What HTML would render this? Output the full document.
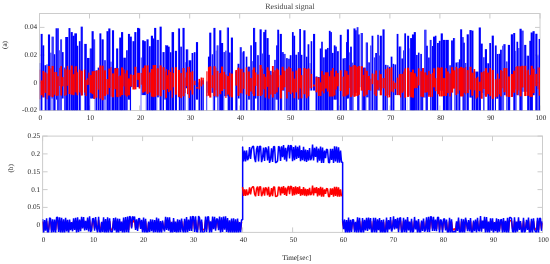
<!DOCTYPE html>
<html><head><meta charset="utf-8"><style>
html,body{margin:0;padding:0;background:#fff;width:550px;height:264px;overflow:hidden}
svg{display:block}
</style></head><body>
<svg width="550" height="264" viewBox="0 0 550 264">
<defs>
<clipPath id="ca"><rect x="39.5" y="13.5" width="500.5" height="97.0"/></clipPath>
<clipPath id="cb"><rect x="42.6" y="136.1" width="499.9" height="96.30000000000001"/></clipPath>
</defs>
<g stroke="#cccccc" stroke-width="1" fill="none">
<rect x="39.5" y="13.5" width="500.5" height="97.0"/>
<rect x="42.6" y="136.1" width="499.9" height="96.30000000000001"/>
<path d="M39.5 110.5v-5M39.5 13.5v5M89.5 110.5v-5M89.5 13.5v5M139.6 110.5v-5M139.6 13.5v5M189.7 110.5v-5M189.7 13.5v5M239.7 110.5v-5M239.7 13.5v5M289.8 110.5v-5M289.8 13.5v5M339.8 110.5v-5M339.8 13.5v5M389.9 110.5v-5M389.9 13.5v5M439.9 110.5v-5M439.9 13.5v5M489.9 110.5v-5M489.9 13.5v5M540.0 110.5v-5M540.0 13.5v5M39.5 110.5h5M540.0 110.5h-5M39.5 82.8h5M540.0 82.8h-5M39.5 55.1h5M540.0 55.1h-5M39.5 27.4h5M540.0 27.4h-5M42.6 232.4v-5M42.6 136.1v5M92.6 232.4v-5M92.6 136.1v5M142.6 232.4v-5M142.6 136.1v5M192.6 232.4v-5M192.6 136.1v5M242.6 232.4v-5M242.6 136.1v5M292.6 232.4v-5M292.6 136.1v5M342.5 232.4v-5M342.5 136.1v5M392.5 232.4v-5M392.5 136.1v5M442.5 232.4v-5M442.5 136.1v5M492.5 232.4v-5M492.5 136.1v5M542.5 232.4v-5M542.5 136.1v5M42.6 225.3h5M542.5 225.3h-5M42.6 207.4h5M542.5 207.4h-5M42.6 189.6h5M542.5 189.6h-5M42.6 171.8h5M542.5 171.8h-5M42.6 153.9h5M542.5 153.9h-5M42.6 136.1h5M542.5 136.1h-5"/>
</g>
<g clip-path="url(#ca)">
<g fill="#0000ff"><rect x="40.67" y="33.91" width="1.74" height="76.59"/><rect x="42.41" y="33.91" width="0.38" height="63.45"/><rect x="42.49" y="45.36" width="1.75" height="52.00"/><rect x="47.94" y="34.45" width="2.12" height="76.05"/><rect x="51.58" y="36.64" width="1.06" height="61.86"/><rect x="52.64" y="36.64" width="1.06" height="73.86"/><rect x="55.58" y="28.27" width="0.47" height="82.23"/><rect x="56.05" y="28.27" width="1.14" height="71.36"/><rect x="57.18" y="28.27" width="1.60" height="82.23"/><rect x="60.30" y="39.36" width="1.42" height="71.14"/><rect x="61.73" y="39.36" width="0.33" height="59.14"/><rect x="62.02" y="52.09" width="1.60" height="46.41"/><rect x="65.21" y="37.00" width="3.03" height="73.50"/><rect x="68.49" y="28.09" width="1.94" height="82.41"/><rect x="70.67" y="32.09" width="2.12" height="78.41"/><rect x="72.49" y="35.73" width="2.12" height="74.77"/><rect x="74.30" y="33.36" width="2.66" height="77.14"/><rect x="76.65" y="45.73" width="1.60" height="64.77"/><rect x="78.85" y="41.18" width="1.75" height="69.32"/><rect x="80.67" y="26.64" width="0.38" height="83.86"/><rect x="81.05" y="26.64" width="1.74" height="68.45"/><rect x="83.94" y="43.91" width="0.51" height="51.18"/><rect x="84.45" y="43.91" width="2.33" height="66.59"/><rect x="89.76" y="48.45" width="0.38" height="62.05"/><rect x="90.14" y="48.45" width="1.74" height="50.05"/><rect x="91.58" y="31.18" width="2.12" height="67.32"/><rect x="93.40" y="39.36" width="1.29" height="59.14"/><rect x="94.68" y="39.36" width="0.47" height="71.14"/><rect x="99.40" y="33.36" width="1.94" height="77.14"/><rect x="101.58" y="39.36" width="2.12" height="71.14"/><rect x="106.49" y="31.18" width="2.12" height="79.32"/><rect x="108.30" y="28.45" width="2.12" height="82.05"/><rect x="111.94" y="30.27" width="2.12" height="80.23"/><rect x="116.12" y="48.45" width="2.12" height="62.05"/><rect x="119.21" y="37.55" width="2.12" height="72.95"/><rect x="121.03" y="32.09" width="2.12" height="78.41"/><rect x="126.12" y="50.27" width="1.51" height="60.23"/><rect x="127.64" y="50.27" width="0.24" height="49.36"/><rect x="127.94" y="33.91" width="1.97" height="65.73"/><rect x="129.91" y="33.91" width="0.15" height="76.59"/><rect x="129.76" y="36.64" width="0.15" height="63.00"/><rect x="129.91" y="36.64" width="1.14" height="73.86"/><rect x="131.05" y="36.64" width="0.83" height="50.50"/><rect x="132.49" y="41.18" width="2.12" height="45.95"/><rect x="134.30" y="32.09" width="2.12" height="55.05"/><rect x="137.03" y="27.91" width="2.12" height="59.23"/><rect x="138.65" y="28.45" width="1.48" height="58.68"/><rect x="140.14" y="28.45" width="0.12" height="82.05"/><rect x="142.12" y="40.27" width="2.12" height="54.82"/><rect x="143.94" y="41.18" width="1.88" height="53.91"/><rect x="145.82" y="41.18" width="0.24" height="69.32"/><rect x="146.49" y="39.36" width="2.12" height="71.14"/><rect x="150.85" y="35.73" width="2.12" height="74.77"/><rect x="152.56" y="38.45" width="1.60" height="72.05"/><rect x="154.12" y="27.91" width="2.12" height="82.59"/><rect x="156.67" y="39.91" width="0.51" height="70.59"/><rect x="157.18" y="39.91" width="1.60" height="57.45"/><rect x="159.58" y="26.64" width="2.12" height="83.86"/><rect x="162.49" y="52.09" width="1.51" height="58.41"/><rect x="164.00" y="52.09" width="0.60" height="47.55"/><rect x="165.76" y="45.36" width="0.06" height="54.27"/><rect x="165.82" y="45.36" width="2.42" height="65.14"/><rect x="167.94" y="46.64" width="1.75" height="63.86"/><rect x="171.58" y="32.09" width="2.48" height="78.41"/><rect x="174.85" y="50.82" width="2.12" height="59.68"/><rect x="177.94" y="28.45" width="0.83" height="68.91"/><rect x="178.77" y="28.45" width="1.29" height="82.05"/><rect x="180.29" y="46.64" width="1.60" height="63.86"/><rect x="182.49" y="27.91" width="2.12" height="82.59"/><rect x="185.76" y="49.36" width="2.10" height="38.91"/><rect x="187.86" y="49.36" width="0.38" height="61.14"/><rect x="191.58" y="53.00" width="1.75" height="57.50"/><rect x="195.94" y="42.09" width="2.12" height="57.55"/><rect x="207.94" y="56.64" width="2.12" height="36.18"/><rect x="209.21" y="32.64" width="2.12" height="60.18"/><rect x="213.40" y="27.91" width="1.74" height="82.59"/><rect x="215.14" y="27.91" width="0.38" height="69.45"/><rect x="216.67" y="45.36" width="0.74" height="52.00"/><rect x="217.41" y="45.36" width="1.01" height="65.14"/><rect x="219.21" y="30.27" width="2.12" height="80.23"/><rect x="221.03" y="43.00" width="2.12" height="67.50"/><rect x="223.47" y="52.09" width="0.75" height="58.41"/><rect x="224.23" y="52.09" width="0.85" height="44.14"/><rect x="226.85" y="27.55" width="0.79" height="68.68"/><rect x="227.64" y="27.55" width="1.33" height="82.95"/><rect x="230.85" y="37.55" width="2.12" height="72.95"/><rect x="239.76" y="47.18" width="0.38" height="51.32"/><rect x="240.14" y="47.18" width="1.56" height="63.32"/><rect x="242.85" y="51.18" width="1.75" height="59.32"/><rect x="245.75" y="56.64" width="1.60" height="53.86"/><rect x="250.12" y="45.36" width="0.24" height="54.27"/><rect x="250.36" y="45.36" width="1.51" height="65.14"/><rect x="253.03" y="27.91" width="1.88" height="82.59"/><rect x="254.91" y="27.91" width="0.24" height="70.59"/><rect x="254.84" y="42.09" width="0.07" height="68.41"/><rect x="254.91" y="42.09" width="1.53" height="56.41"/><rect x="257.03" y="55.18" width="0.15" height="43.32"/><rect x="257.18" y="55.18" width="1.60" height="55.32"/><rect x="259.58" y="29.36" width="2.12" height="81.14"/><rect x="263.21" y="32.09" width="1.75" height="78.41"/><rect x="264.67" y="29.73" width="1.75" height="80.77"/><rect x="266.49" y="38.09" width="2.12" height="72.41"/><rect x="268.20" y="54.82" width="1.60" height="55.68"/><rect x="276.11" y="45.36" width="1.53" height="54.27"/><rect x="277.64" y="45.36" width="0.07" height="65.14"/><rect x="277.03" y="29.73" width="0.60" height="69.91"/><rect x="277.64" y="29.73" width="1.51" height="80.77"/><rect x="279.76" y="33.91" width="2.12" height="76.59"/><rect x="281.58" y="52.09" width="0.60" height="58.41"/><rect x="282.18" y="52.09" width="1.51" height="38.45"/><rect x="283.40" y="53.91" width="1.06" height="36.64"/><rect x="284.45" y="53.91" width="1.06" height="56.59"/><rect x="289.76" y="55.18" width="1.75" height="55.32"/><rect x="291.94" y="32.09" width="1.75" height="78.41"/><rect x="293.40" y="35.73" width="1.75" height="74.77"/><rect x="297.75" y="52.09" width="0.35" height="58.41"/><rect x="298.09" y="52.09" width="1.14" height="47.55"/><rect x="299.23" y="52.09" width="0.12" height="58.41"/><rect x="299.23" y="29.00" width="1.74" height="81.50"/><rect x="300.67" y="54.82" width="1.75" height="55.68"/><rect x="303.40" y="30.27" width="2.12" height="80.23"/><rect x="307.58" y="44.27" width="1.75" height="66.23"/><rect x="310.65" y="41.18" width="1.60" height="49.36"/><rect x="313.03" y="33.91" width="2.10" height="56.64"/><rect x="319.76" y="48.45" width="1.75" height="62.05"/><rect x="321.20" y="41.73" width="1.60" height="68.77"/><rect x="324.85" y="49.36" width="2.12" height="61.14"/><rect x="328.85" y="30.82" width="1.75" height="79.68"/><rect x="330.29" y="32.09" width="1.60" height="78.41"/><rect x="333.76" y="45.36" width="1.75" height="54.27"/><rect x="335.21" y="46.64" width="1.51" height="53.00"/><rect x="336.73" y="46.64" width="0.24" height="63.86"/><rect x="337.03" y="51.18" width="1.75" height="59.32"/><rect x="339.76" y="34.82" width="1.94" height="75.68"/><rect x="342.49" y="58.45" width="1.75" height="52.05"/><rect x="346.02" y="42.09" width="0.94" height="68.41"/><rect x="346.95" y="42.09" width="0.66" height="56.41"/><rect x="346.85" y="29.36" width="0.10" height="81.14"/><rect x="346.95" y="29.36" width="2.01" height="69.14"/><rect x="350.12" y="46.64" width="1.75" height="63.86"/><rect x="353.40" y="28.45" width="0.38" height="82.05"/><rect x="353.77" y="28.45" width="1.74" height="64.36"/><rect x="355.11" y="30.27" width="1.60" height="62.55"/><rect x="356.67" y="27.18" width="0.51" height="65.64"/><rect x="357.18" y="27.18" width="1.24" height="83.32"/><rect x="358.12" y="34.45" width="1.33" height="76.05"/><rect x="359.45" y="34.45" width="0.42" height="52.68"/><rect x="360.67" y="33.00" width="1.06" height="54.14"/><rect x="361.73" y="33.00" width="1.06" height="77.50"/><rect x="365.76" y="42.45" width="0.51" height="68.05"/><rect x="366.27" y="42.45" width="1.60" height="54.91"/><rect x="371.58" y="35.73" width="1.75" height="74.77"/><rect x="375.21" y="53.00" width="1.75" height="57.50"/><rect x="377.03" y="34.82" width="0.60" height="75.68"/><rect x="377.64" y="34.82" width="1.15" height="55.73"/><rect x="379.76" y="35.73" width="2.12" height="54.82"/><rect x="382.49" y="29.36" width="2.12" height="81.14"/><rect x="390.67" y="56.64" width="1.75" height="53.86"/><rect x="396.67" y="33.91" width="1.75" height="61.18"/><rect x="401.38" y="58.45" width="1.60" height="52.05"/><rect x="404.30" y="33.36" width="1.75" height="77.14"/><rect x="407.03" y="35.73" width="0.15" height="74.77"/><rect x="407.18" y="35.73" width="1.97" height="59.36"/><rect x="410.12" y="38.09" width="2.12" height="72.41"/><rect x="411.94" y="34.45" width="2.12" height="76.05"/><rect x="413.76" y="32.09" width="2.12" height="78.41"/><rect x="417.93" y="52.64" width="1.60" height="57.86"/><rect x="420.29" y="53.91" width="1.60" height="56.59"/><rect x="424.30" y="29.73" width="1.24" height="67.82"/><rect x="425.55" y="29.73" width="0.88" height="80.77"/><rect x="426.12" y="45.73" width="1.73" height="64.77"/><rect x="429.76" y="39.91" width="0.41" height="55.33"/><rect x="430.17" y="39.91" width="1.35" height="70.59"/><rect x="433.03" y="36.64" width="2.12" height="73.86"/><rect x="434.84" y="35.73" width="1.60" height="74.77"/><rect x="437.03" y="43.00" width="1.22" height="67.50"/><rect x="438.25" y="43.00" width="0.90" height="47.62"/><rect x="438.85" y="40.82" width="1.78" height="49.80"/><rect x="440.70" y="33.40" width="2.15" height="57.22"/><rect x="442.93" y="39.89" width="2.15" height="70.61"/><rect x="445.34" y="39.89" width="3.45" height="70.61"/><rect x="451.09" y="40.45" width="1.02" height="70.05"/><rect x="452.11" y="40.45" width="1.14" height="45.55"/><rect x="452.94" y="38.04" width="1.47" height="47.96"/><rect x="454.42" y="38.04" width="0.68" height="72.46"/><rect x="458.88" y="59.36" width="1.31" height="51.14"/><rect x="460.19" y="59.36" width="0.29" height="35.87"/><rect x="459.99" y="29.32" width="0.20" height="81.18"/><rect x="460.19" y="29.32" width="1.96" height="65.92"/><rect x="461.85" y="37.11" width="0.65" height="58.13"/><rect x="462.50" y="37.11" width="1.13" height="73.39"/><rect x="463.24" y="42.67" width="1.60" height="67.83"/><rect x="466.67" y="34.33" width="2.15" height="76.17"/><rect x="469.45" y="30.06" width="2.15" height="67.49"/><rect x="471.30" y="30.62" width="0.43" height="66.93"/><rect x="471.74" y="30.62" width="1.72" height="79.88"/><rect x="478.72" y="27.47" width="2.15" height="83.03"/><rect x="480.58" y="43.60" width="0.40" height="66.90"/><rect x="480.97" y="43.60" width="1.76" height="49.33"/><rect x="484.84" y="49.16" width="2.15" height="46.07"/><rect x="489.29" y="43.04" width="1.78" height="67.46"/><rect x="491.70" y="35.63" width="2.15" height="74.87"/><rect x="494.86" y="45.45" width="1.13" height="65.05"/><rect x="495.99" y="45.45" width="0.65" height="53.25"/><rect x="498.57" y="53.80" width="2.15" height="56.70"/><rect x="500.05" y="49.72" width="1.78" height="60.78"/><rect x="503.39" y="44.16" width="0.68" height="66.34"/><rect x="504.07" y="44.16" width="1.47" height="51.08"/><rect x="507.84" y="44.90" width="2.15" height="65.60"/><rect x="510.81" y="34.33" width="0.19" height="76.17"/><rect x="511.00" y="34.33" width="1.96" height="62.07"/><rect x="513.03" y="33.03" width="0.28" height="63.36"/><rect x="513.31" y="33.03" width="1.88" height="77.47"/><rect x="516.37" y="41.75" width="0.40" height="68.75"/><rect x="516.77" y="41.75" width="1.38" height="53.49"/><rect x="519.52" y="28.76" width="2.15" height="81.74"/><rect x="521.38" y="30.62" width="1.17" height="79.88"/><rect x="522.55" y="30.62" width="0.99" height="61.16"/><rect x="524.16" y="44.90" width="2.15" height="46.88"/><rect x="529.35" y="40.82" width="1.78" height="69.68"/><rect x="530.65" y="32.47" width="2.15" height="78.03"/><rect x="532.50" y="31.17" width="0.43" height="79.33"/><rect x="532.94" y="31.17" width="1.72" height="64.06"/><rect x="535.29" y="33.77" width="2.15" height="76.73"/><rect x="538.62" y="38.96" width="2.15" height="71.54"/><rect x="39.68" y="63.02" width="0.54" height="47.48"/><rect x="44.40" y="65.20" width="0.28" height="32.17"/><rect x="44.68" y="65.20" width="1.60" height="45.30"/><rect x="46.49" y="64.32" width="1.04" height="46.18"/><rect x="50.36" y="52.66" width="1.01" height="57.84"/><rect x="53.84" y="54.22" width="1.43" height="56.28"/><rect x="59.34" y="50.26" width="0.70" height="60.24"/><rect x="64.09" y="67.49" width="0.76" height="43.01"/><rect x="87.01" y="57.95" width="2.58" height="52.55"/><rect x="95.55" y="70.36" width="1.72" height="40.14"/><rect x="97.67" y="67.59" width="1.43" height="42.91"/><rect x="103.99" y="60.24" width="0.47" height="50.26"/><rect x="104.45" y="60.24" width="1.14" height="39.39"/><rect x="105.59" y="60.24" width="0.42" height="50.26"/><rect x="110.53" y="61.65" width="0.96" height="48.85"/><rect x="114.35" y="67.88" width="1.65" height="42.62"/><rect x="118.35" y="68.22" width="0.59" height="42.28"/><rect x="123.30" y="57.69" width="2.55" height="52.81"/><rect x="140.82" y="57.55" width="0.45" height="52.95"/><rect x="141.27" y="57.55" width="0.48" height="37.54"/><rect x="149.02" y="46.19" width="1.67" height="64.31"/><rect x="164.99" y="45.11" width="0.70" height="54.53"/><rect x="169.90" y="52.23" width="1.57" height="58.27"/><rect x="184.97" y="62.17" width="0.54" height="48.33"/><rect x="188.60" y="60.29" width="2.83" height="50.21"/><rect x="193.77" y="52.15" width="1.77" height="58.35"/><rect x="198.48" y="82.36" width="1.62" height="28.14"/><rect x="200.59" y="80.47" width="1.56" height="30.03"/><rect x="202.39" y="80.26" width="1.44" height="30.24"/><rect x="206.37" y="81.39" width="0.81" height="29.11"/><rect x="207.18" y="81.39" width="0.33" height="11.43"/><rect x="211.74" y="54.28" width="1.12" height="38.54"/><rect x="212.86" y="54.28" width="0.24" height="56.22"/><rect x="215.80" y="50.61" width="0.55" height="46.76"/><rect x="225.30" y="50.61" width="1.16" height="45.62"/><rect x="229.04" y="52.46" width="1.49" height="58.04"/><rect x="235.32" y="71.24" width="1.79" height="39.26"/><rect x="237.46" y="63.78" width="0.40" height="46.72"/><rect x="237.86" y="63.78" width="1.60" height="34.72"/><rect x="241.88" y="52.25" width="0.68" height="58.25"/><rect x="247.76" y="66.62" width="0.33" height="43.88"/><rect x="248.09" y="66.62" width="1.78" height="33.02"/><rect x="252.11" y="61.13" width="0.59" height="49.37"/><rect x="261.88" y="53.49" width="0.89" height="57.01"/><rect x="270.17" y="70.85" width="1.39" height="39.65"/><rect x="271.91" y="72.05" width="1.85" height="38.45"/><rect x="274.26" y="59.87" width="1.11" height="50.63"/><rect x="275.36" y="59.87" width="0.46" height="39.76"/><rect x="286.09" y="58.12" width="1.68" height="52.38"/><rect x="288.21" y="58.70" width="1.53" height="51.80"/><rect x="295.31" y="54.70" width="1.91" height="55.80"/><rect x="305.85" y="56.70" width="1.61" height="53.80"/><rect x="309.69" y="63.13" width="0.68" height="27.42"/><rect x="315.55" y="76.47" width="1.96" height="34.03"/><rect x="317.85" y="77.04" width="1.87" height="33.46"/><rect x="323.10" y="57.36" width="1.62" height="53.14"/><rect x="327.01" y="47.97" width="1.61" height="62.53"/><rect x="332.01" y="52.88" width="1.31" height="57.62"/><rect x="333.32" y="52.88" width="0.41" height="46.76"/><rect x="344.26" y="58.07" width="1.49" height="52.43"/><rect x="349.26" y="52.35" width="0.63" height="58.15"/><rect x="352.31" y="62.61" width="0.82" height="47.89"/><rect x="363.04" y="67.53" width="2.57" height="42.97"/><rect x="368.01" y="62.39" width="0.53" height="34.97"/><rect x="368.55" y="62.39" width="1.33" height="48.11"/><rect x="370.34" y="45.45" width="0.95" height="65.05"/><rect x="373.84" y="57.40" width="0.97" height="53.10"/><rect x="379.02" y="55.46" width="0.68" height="35.09"/><rect x="384.90" y="64.83" width="1.70" height="45.67"/><rect x="387.14" y="65.24" width="0.73" height="45.26"/><rect x="387.86" y="65.24" width="0.61" height="29.85"/><rect x="388.92" y="66.79" width="1.21" height="28.30"/><rect x="390.14" y="66.79" width="0.29" height="43.71"/><rect x="392.70" y="63.85" width="1.35" height="46.65"/><rect x="394.31" y="64.46" width="0.38" height="46.04"/><rect x="394.68" y="64.46" width="1.52" height="30.63"/><rect x="398.72" y="46.52" width="1.64" height="48.57"/><rect x="400.36" y="46.52" width="0.87" height="63.98"/><rect x="403.20" y="50.38" width="0.81" height="60.12"/><rect x="409.29" y="48.38" width="0.16" height="46.71"/><rect x="409.45" y="48.38" width="0.30" height="62.12"/><rect x="416.07" y="54.92" width="1.61" height="55.58"/><rect x="422.07" y="68.65" width="1.16" height="41.85"/><rect x="423.24" y="68.65" width="0.78" height="28.90"/><rect x="428.11" y="57.51" width="1.59" height="37.73"/><rect x="431.92" y="45.98" width="1.06" height="64.52"/><rect x="449.32" y="65.27" width="1.48" height="45.23"/><rect x="455.47" y="62.52" width="1.57" height="47.98"/><rect x="457.38" y="62.19" width="1.21" height="48.31"/><rect x="465.24" y="62.95" width="1.01" height="47.55"/><rect x="473.57" y="71.46" width="1.63" height="39.04"/><rect x="475.50" y="71.56" width="2.97" height="38.94"/><rect x="483.10" y="57.26" width="0.19" height="35.67"/><rect x="483.28" y="57.26" width="1.15" height="53.24"/><rect x="484.44" y="57.26" width="0.19" height="37.98"/><rect x="487.10" y="63.27" width="0.35" height="31.96"/><rect x="487.44" y="63.27" width="1.72" height="47.23"/><rect x="496.83" y="54.00" width="1.47" height="44.70"/><rect x="498.30" y="54.00" width="0.11" height="56.50"/><rect x="502.34" y="45.73" width="0.86" height="64.77"/><rect x="505.82" y="61.49" width="0.56" height="33.75"/><rect x="506.38" y="61.49" width="1.07" height="49.01"/><rect x="515.40" y="50.86" width="0.72" height="59.64"/><rect x="518.34" y="48.00" width="0.74" height="47.24"/><rect x="519.08" y="48.00" width="0.30" height="62.50"/><rect x="526.67" y="55.69" width="0.50" height="36.09"/><rect x="527.16" y="55.69" width="1.85" height="54.81"/><rect x="537.54" y="55.56" width="0.85" height="54.94"/></g>
<g fill="#ff0000"><rect x="39.68" y="69.67" width="0.54" height="29.57"/><rect x="40.67" y="80.43" width="2.12" height="14.81"/><rect x="42.49" y="70.91" width="1.75" height="26.28"/><rect x="44.40" y="72.35" width="1.88" height="20.56"/><rect x="46.49" y="73.42" width="1.04" height="25.79"/><rect x="47.94" y="66.01" width="2.12" height="29.52"/><rect x="50.36" y="68.43" width="1.01" height="28.15"/><rect x="51.58" y="65.91" width="2.12" height="31.12"/><rect x="53.84" y="71.91" width="1.43" height="22.83"/><rect x="55.58" y="72.01" width="1.60" height="23.97"/><rect x="57.18" y="76.24" width="1.60" height="19.38"/><rect x="59.34" y="67.87" width="0.70" height="18.12"/><rect x="60.30" y="66.09" width="1.75" height="29.45"/><rect x="62.02" y="77.12" width="1.60" height="9.26"/><rect x="64.09" y="68.50" width="0.76" height="27.48"/><rect x="65.21" y="69.47" width="1.51" height="25.96"/><rect x="66.73" y="65.90" width="1.51" height="19.82"/><rect x="68.49" y="69.68" width="1.94" height="24.30"/><rect x="70.67" y="65.53" width="2.12" height="29.11"/><rect x="72.49" y="74.20" width="2.12" height="20.93"/><rect x="74.30" y="66.50" width="1.33" height="25.50"/><rect x="75.64" y="66.08" width="1.33" height="26.61"/><rect x="76.65" y="72.23" width="1.60" height="23.00"/><rect x="78.85" y="69.49" width="1.75" height="22.94"/><rect x="80.67" y="70.79" width="2.12" height="24.76"/><rect x="83.94" y="69.60" width="1.42" height="22.97"/><rect x="85.36" y="79.91" width="1.42" height="16.09"/><rect x="87.01" y="78.24" width="1.29" height="6.73"/><rect x="88.30" y="72.62" width="1.29" height="12.21"/><rect x="89.76" y="75.06" width="2.12" height="17.78"/><rect x="91.58" y="71.26" width="2.12" height="22.92"/><rect x="93.40" y="70.98" width="1.75" height="27.97"/><rect x="95.55" y="70.74" width="1.72" height="26.95"/><rect x="97.67" y="70.05" width="1.43" height="19.66"/><rect x="99.40" y="65.49" width="1.94" height="33.08"/><rect x="101.58" y="65.70" width="2.12" height="34.48"/><rect x="103.99" y="70.30" width="2.02" height="25.58"/><rect x="106.49" y="78.98" width="2.12" height="15.52"/><rect x="108.30" y="68.56" width="2.12" height="19.39"/><rect x="110.53" y="67.00" width="0.96" height="29.63"/><rect x="111.94" y="73.41" width="2.12" height="23.87"/><rect x="114.35" y="68.28" width="1.65" height="20.85"/><rect x="116.12" y="68.15" width="2.12" height="28.81"/><rect x="118.35" y="76.30" width="0.59" height="21.16"/><rect x="119.21" y="75.54" width="2.12" height="21.01"/><rect x="121.03" y="67.38" width="2.12" height="27.65"/><rect x="123.30" y="69.42" width="1.28" height="16.99"/><rect x="124.58" y="73.42" width="1.28" height="21.91"/><rect x="126.12" y="70.34" width="1.75" height="26.19"/><rect x="127.94" y="78.35" width="2.12" height="16.99"/><rect x="129.76" y="74.39" width="2.12" height="12.24"/><rect x="132.49" y="74.90" width="2.12" height="14.58"/><rect x="134.30" y="66.75" width="2.12" height="22.61"/><rect x="137.03" y="72.90" width="2.12" height="7.00"/><rect x="138.65" y="72.85" width="1.60" height="15.76"/><rect x="140.82" y="72.95" width="0.93" height="11.75"/><rect x="142.12" y="67.84" width="2.12" height="24.79"/><rect x="143.94" y="65.51" width="2.12" height="26.15"/><rect x="146.49" y="65.34" width="2.12" height="28.50"/><rect x="149.02" y="72.43" width="1.67" height="20.06"/><rect x="150.85" y="69.04" width="2.12" height="27.55"/><rect x="152.56" y="65.11" width="1.60" height="32.08"/><rect x="154.12" y="65.01" width="2.12" height="31.70"/><rect x="156.67" y="68.32" width="2.12" height="27.07"/><rect x="159.58" y="65.36" width="2.12" height="30.97"/><rect x="162.49" y="67.19" width="2.12" height="22.69"/><rect x="164.99" y="71.45" width="0.70" height="26.74"/><rect x="165.76" y="69.10" width="1.24" height="28.80"/><rect x="167.00" y="75.20" width="1.24" height="13.83"/><rect x="167.94" y="69.98" width="1.75" height="22.10"/><rect x="169.90" y="71.95" width="1.57" height="18.56"/><rect x="171.58" y="67.42" width="1.24" height="30.31"/><rect x="172.82" y="73.00" width="1.24" height="14.25"/><rect x="174.85" y="67.17" width="2.12" height="27.57"/><rect x="177.94" y="69.85" width="2.12" height="26.98"/><rect x="180.29" y="73.08" width="1.60" height="24.98"/><rect x="182.49" y="68.06" width="2.12" height="28.25"/><rect x="184.97" y="77.49" width="0.54" height="15.50"/><rect x="185.76" y="72.37" width="1.24" height="13.84"/><rect x="187.00" y="67.16" width="1.24" height="27.09"/><rect x="188.60" y="66.79" width="1.41" height="31.19"/><rect x="190.01" y="72.11" width="1.41" height="18.21"/><rect x="191.58" y="71.27" width="1.75" height="23.27"/><rect x="193.77" y="80.64" width="1.77" height="4.51"/><rect x="195.94" y="87.12" width="2.12" height="1.36"/><rect x="198.48" y="78.89" width="1.62" height="10.42"/><rect x="200.59" y="77.49" width="1.56" height="8.90"/><rect x="202.39" y="77.73" width="1.44" height="6.78"/><rect x="206.37" y="71.30" width="1.14" height="24.93"/><rect x="207.94" y="67.09" width="2.12" height="28.66"/><rect x="209.21" y="66.35" width="2.12" height="31.21"/><rect x="211.74" y="75.15" width="1.36" height="12.78"/><rect x="213.40" y="66.20" width="2.12" height="30.02"/><rect x="215.80" y="67.78" width="0.55" height="22.49"/><rect x="216.67" y="70.82" width="1.75" height="25.71"/><rect x="219.21" y="73.12" width="2.12" height="21.11"/><rect x="221.03" y="66.60" width="2.12" height="24.40"/><rect x="223.47" y="71.83" width="1.60" height="17.15"/><rect x="225.30" y="74.49" width="1.16" height="23.52"/><rect x="226.85" y="76.10" width="2.12" height="18.47"/><rect x="229.04" y="72.71" width="1.49" height="23.71"/><rect x="230.85" y="73.58" width="2.12" height="23.75"/><rect x="235.32" y="69.96" width="1.79" height="15.68"/><rect x="237.46" y="67.67" width="2.01" height="28.18"/><rect x="239.76" y="68.99" width="1.94" height="24.17"/><rect x="241.88" y="68.70" width="0.68" height="24.87"/><rect x="242.85" y="72.35" width="1.75" height="16.45"/><rect x="245.75" y="67.32" width="1.60" height="27.24"/><rect x="247.76" y="71.48" width="2.11" height="24.52"/><rect x="250.12" y="78.00" width="1.75" height="13.49"/><rect x="252.11" y="69.74" width="0.59" height="24.20"/><rect x="253.03" y="67.48" width="2.12" height="28.49"/><rect x="254.84" y="72.45" width="1.60" height="13.46"/><rect x="257.03" y="74.49" width="1.75" height="21.51"/><rect x="259.58" y="65.01" width="2.12" height="30.93"/><rect x="261.88" y="68.53" width="0.89" height="26.18"/><rect x="263.21" y="73.97" width="1.75" height="15.26"/><rect x="264.67" y="76.72" width="1.75" height="20.91"/><rect x="266.49" y="67.26" width="2.12" height="19.60"/><rect x="268.20" y="70.48" width="1.60" height="28.20"/><rect x="270.17" y="74.74" width="1.39" height="19.82"/><rect x="271.91" y="65.99" width="1.85" height="31.54"/><rect x="274.26" y="70.29" width="1.56" height="23.72"/><rect x="276.11" y="68.39" width="1.60" height="24.04"/><rect x="277.03" y="69.70" width="2.12" height="17.65"/><rect x="279.76" y="75.17" width="2.12" height="23.35"/><rect x="281.58" y="66.78" width="2.12" height="23.45"/><rect x="283.40" y="70.71" width="2.12" height="16.61"/><rect x="286.09" y="68.63" width="1.68" height="29.80"/><rect x="288.21" y="66.71" width="1.53" height="25.27"/><rect x="289.76" y="68.05" width="1.75" height="26.09"/><rect x="291.94" y="71.40" width="1.75" height="21.12"/><rect x="293.40" y="78.57" width="1.75" height="19.63"/><rect x="295.31" y="70.42" width="1.91" height="21.88"/><rect x="297.75" y="68.36" width="1.60" height="30.28"/><rect x="299.21" y="68.15" width="1.75" height="20.28"/><rect x="300.67" y="75.13" width="1.75" height="23.22"/><rect x="303.40" y="68.00" width="2.12" height="26.24"/><rect x="305.85" y="68.99" width="1.61" height="29.24"/><rect x="307.58" y="68.35" width="1.75" height="28.05"/><rect x="309.69" y="69.13" width="0.68" height="19.09"/><rect x="310.65" y="73.90" width="1.60" height="14.25"/><rect x="313.03" y="84.60" width="2.12" height="1.88"/><rect x="315.55" y="77.09" width="1.96" height="15.24"/><rect x="317.85" y="77.52" width="1.87" height="18.48"/><rect x="319.76" y="82.32" width="1.75" height="13.71"/><rect x="321.20" y="71.07" width="1.60" height="20.25"/><rect x="323.10" y="74.87" width="1.62" height="18.51"/><rect x="324.85" y="72.28" width="2.12" height="16.31"/><rect x="327.01" y="72.35" width="1.61" height="19.23"/><rect x="328.85" y="76.28" width="1.75" height="20.18"/><rect x="330.29" y="70.63" width="1.60" height="25.87"/><rect x="332.01" y="67.99" width="1.72" height="28.51"/><rect x="333.76" y="76.55" width="1.75" height="18.91"/><rect x="335.21" y="70.66" width="1.75" height="18.75"/><rect x="337.03" y="73.09" width="1.75" height="13.27"/><rect x="339.76" y="70.30" width="1.94" height="20.69"/><rect x="342.49" y="76.58" width="1.75" height="19.83"/><rect x="344.26" y="70.08" width="1.49" height="26.37"/><rect x="346.02" y="71.11" width="1.60" height="24.45"/><rect x="346.85" y="74.81" width="2.12" height="19.64"/><rect x="349.26" y="65.22" width="0.63" height="22.87"/><rect x="350.12" y="66.83" width="1.75" height="30.16"/><rect x="352.31" y="65.67" width="0.82" height="29.88"/><rect x="353.40" y="65.00" width="2.12" height="31.84"/><rect x="355.11" y="65.83" width="1.60" height="30.07"/><rect x="356.67" y="66.95" width="1.75" height="29.22"/><rect x="358.12" y="65.98" width="1.75" height="28.82"/><rect x="360.67" y="66.21" width="2.12" height="24.43"/><rect x="363.04" y="74.93" width="1.29" height="21.43"/><rect x="364.32" y="68.18" width="1.29" height="28.10"/><rect x="365.76" y="70.81" width="2.12" height="23.95"/><rect x="368.01" y="75.96" width="1.87" height="14.04"/><rect x="370.34" y="78.71" width="0.95" height="12.10"/><rect x="371.58" y="73.44" width="1.75" height="10.71"/><rect x="373.84" y="74.13" width="0.97" height="20.37"/><rect x="375.21" y="70.48" width="1.75" height="25.51"/><rect x="377.03" y="80.17" width="1.75" height="9.40"/><rect x="379.02" y="70.41" width="0.68" height="17.09"/><rect x="379.76" y="74.15" width="2.12" height="21.16"/><rect x="382.49" y="78.16" width="2.12" height="10.20"/><rect x="384.90" y="69.33" width="1.70" height="26.52"/><rect x="387.14" y="67.49" width="1.34" height="30.13"/><rect x="388.92" y="68.55" width="1.50" height="28.75"/><rect x="390.67" y="67.33" width="1.75" height="24.26"/><rect x="392.70" y="80.73" width="1.35" height="11.71"/><rect x="394.31" y="82.69" width="1.90" height="6.17"/><rect x="396.67" y="77.59" width="1.75" height="17.23"/><rect x="398.72" y="74.25" width="1.26" height="20.89"/><rect x="399.98" y="73.99" width="1.26" height="23.46"/><rect x="401.38" y="73.85" width="1.60" height="19.02"/><rect x="403.20" y="71.41" width="0.81" height="20.14"/><rect x="404.30" y="68.39" width="1.75" height="29.31"/><rect x="407.03" y="67.70" width="2.12" height="29.22"/><rect x="409.29" y="70.56" width="0.46" height="25.63"/><rect x="410.12" y="72.07" width="2.12" height="25.18"/><rect x="411.94" y="69.56" width="2.12" height="28.14"/><rect x="413.76" y="73.24" width="2.12" height="15.03"/><rect x="416.07" y="76.58" width="1.61" height="11.48"/><rect x="417.93" y="68.33" width="1.60" height="17.15"/><rect x="420.29" y="71.24" width="1.60" height="25.47"/><rect x="422.07" y="68.06" width="1.94" height="28.90"/><rect x="424.30" y="72.45" width="2.12" height="20.23"/><rect x="426.12" y="75.08" width="1.75" height="17.13"/><rect x="428.11" y="70.84" width="1.59" height="25.94"/><rect x="429.76" y="74.09" width="1.75" height="22.91"/><rect x="431.92" y="72.82" width="1.06" height="23.96"/><rect x="433.03" y="68.21" width="2.12" height="19.13"/><rect x="434.84" y="78.16" width="1.60" height="13.01"/><rect x="437.03" y="67.35" width="2.12" height="26.91"/><rect x="438.85" y="67.96" width="1.78" height="28.43"/><rect x="440.70" y="67.30" width="2.15" height="29.17"/><rect x="442.93" y="78.08" width="2.15" height="17.92"/><rect x="445.34" y="68.29" width="1.73" height="27.66"/><rect x="447.07" y="71.47" width="1.73" height="21.64"/><rect x="449.32" y="73.47" width="1.48" height="23.03"/><rect x="451.09" y="67.17" width="2.15" height="25.45"/><rect x="452.94" y="70.37" width="2.15" height="18.28"/><rect x="455.47" y="66.85" width="1.57" height="28.30"/><rect x="457.38" y="68.43" width="1.21" height="25.30"/><rect x="458.88" y="68.00" width="1.60" height="22.41"/><rect x="459.99" y="66.88" width="2.15" height="29.59"/><rect x="461.85" y="67.74" width="1.78" height="28.71"/><rect x="463.24" y="68.33" width="1.60" height="24.57"/><rect x="465.24" y="66.85" width="1.01" height="27.48"/><rect x="466.67" y="70.09" width="2.15" height="23.00"/><rect x="469.45" y="66.81" width="2.15" height="22.88"/><rect x="471.30" y="72.66" width="2.15" height="23.01"/><rect x="473.57" y="69.09" width="1.63" height="21.23"/><rect x="475.50" y="78.10" width="1.48" height="20.55"/><rect x="476.99" y="76.82" width="1.48" height="20.57"/><rect x="478.72" y="81.80" width="2.15" height="9.18"/><rect x="480.58" y="72.25" width="2.15" height="26.48"/><rect x="483.10" y="71.20" width="1.53" height="17.81"/><rect x="484.84" y="68.17" width="2.15" height="28.62"/><rect x="487.10" y="72.62" width="2.07" height="21.56"/><rect x="489.29" y="68.03" width="1.78" height="28.08"/><rect x="491.70" y="70.08" width="2.15" height="28.81"/><rect x="494.86" y="79.24" width="1.78" height="17.99"/><rect x="496.83" y="73.63" width="1.58" height="23.01"/><rect x="498.57" y="78.67" width="2.15" height="15.71"/><rect x="500.05" y="70.11" width="1.78" height="26.33"/><rect x="502.34" y="71.02" width="0.86" height="17.28"/><rect x="503.39" y="68.04" width="2.15" height="24.18"/><rect x="505.82" y="68.18" width="1.63" height="28.37"/><rect x="507.84" y="76.48" width="2.15" height="20.49"/><rect x="510.81" y="74.03" width="2.15" height="22.94"/><rect x="513.03" y="70.72" width="2.15" height="22.03"/><rect x="515.40" y="66.94" width="0.72" height="22.68"/><rect x="516.37" y="66.23" width="1.78" height="28.43"/><rect x="518.34" y="66.32" width="1.04" height="24.05"/><rect x="519.52" y="66.37" width="2.15" height="29.99"/><rect x="521.38" y="65.80" width="2.15" height="21.69"/><rect x="524.16" y="65.81" width="2.15" height="30.25"/><rect x="526.67" y="70.40" width="1.17" height="25.53"/><rect x="527.84" y="69.66" width="1.17" height="26.04"/><rect x="529.35" y="74.86" width="1.78" height="21.93"/><rect x="530.65" y="65.80" width="2.15" height="31.12"/><rect x="532.50" y="68.70" width="2.15" height="24.51"/><rect x="535.29" y="73.85" width="2.15" height="12.32"/><rect x="537.54" y="67.41" width="0.85" height="21.76"/><rect x="538.62" y="67.44" width="2.15" height="28.20"/></g>
</g>
<g clip-path="url(#cb)">
<polyline fill="none" stroke="#ff0000" stroke-width="1.5" stroke-linejoin="bevel" points="42.60,221.55 43.60,230.54 44.60,222.08 45.60,228.50 46.60,221.13 47.60,230.48 48.60,229.41 49.60,220.80 50.60,221.41 51.60,230.34 52.60,221.72 53.60,229.55 54.60,221.88 55.60,229.92 56.60,220.55 57.60,220.38 58.60,229.34 59.60,220.52 60.60,230.42 61.60,220.79 62.60,230.19 63.60,221.76 64.60,230.14 65.60,220.84 66.60,228.99 67.59,221.97 68.59,230.66 69.59,221.80 70.59,228.27 71.59,223.42 72.59,228.89 73.59,221.14 74.59,228.08 75.59,220.82 76.59,230.17 77.59,220.54 78.59,229.49 79.59,221.87 80.59,228.82 81.59,220.14 82.59,227.24 83.59,220.34 84.59,228.41 85.59,222.55 86.59,228.13 87.59,220.69 88.59,229.00 89.59,219.90 90.59,229.47 91.59,227.89 92.59,221.29 93.59,221.24 94.59,228.58 95.59,220.31 96.59,227.12 97.59,229.75 98.59,220.21 99.59,228.88 100.59,230.21 101.59,223.18 102.59,229.44 103.59,220.49 104.59,230.58 105.59,221.61 106.59,230.56 107.59,220.52 108.59,230.05 109.59,221.11 110.59,228.48 111.59,230.50 112.59,228.27 113.59,221.02 114.59,228.42 115.59,220.65 116.59,230.67 117.59,221.22 118.58,230.60 119.58,221.40 120.58,228.77 121.58,223.01 122.58,230.59 123.58,220.65 124.58,230.13 125.58,220.35 126.58,229.56 127.58,220.07 128.58,229.91 129.58,219.94 130.58,220.51 131.58,227.23 132.58,219.87 133.58,222.13 134.58,220.01 135.58,228.04 136.58,221.76 137.58,228.68 138.58,221.39 139.58,221.14 140.58,227.49 141.58,221.98 142.58,229.78 143.58,220.61 144.58,230.45 145.58,221.32 146.58,230.49 147.58,230.54 148.58,223.06 149.58,229.36 150.58,221.72 151.58,228.81 152.58,221.80 153.58,230.45 154.58,222.18 155.58,229.60 156.58,220.69 157.58,230.21 158.58,221.30 159.58,230.17 160.58,222.69 161.58,230.18 162.58,222.42 163.58,227.23 164.58,228.96 165.58,220.15 166.58,228.07 167.57,220.55 168.57,228.46 169.57,220.43 170.57,230.21 171.57,223.23 172.57,230.71 173.57,220.86 174.57,229.24 175.57,223.03 176.57,231.17 177.57,221.67 178.57,229.73 179.57,222.03 180.57,229.58 181.57,221.21 182.57,227.64 183.57,230.32 184.57,221.38 185.57,230.00 186.57,220.30 187.57,229.64 188.57,221.80 189.57,228.68 190.57,219.86 191.57,228.61 192.57,219.95 193.57,220.28 194.57,229.34 195.57,219.95 196.57,229.02 197.57,229.71 198.57,219.74 199.57,220.88 200.57,229.82 201.57,221.84 202.57,229.97 203.57,229.84 204.57,228.81 205.57,220.01 206.57,229.50 207.57,220.26 208.57,220.22 209.57,229.90 210.57,222.89 211.57,229.78 212.57,220.08 213.57,227.57 214.57,220.13 215.57,228.48 216.57,221.38 217.56,221.58 218.56,228.25 219.56,220.06 220.56,229.98 221.56,220.45 222.56,229.31 223.56,219.99 224.56,227.86 225.56,219.93 226.56,229.31 227.56,220.95 228.56,230.27 229.56,222.30 230.56,230.10 231.56,221.17 232.56,230.62 233.56,221.12 234.56,230.07 235.56,221.72 236.56,230.67 237.56,221.17 238.56,229.95 239.56,223.34 240.56,229.59 241.56,221.95"/><polyline fill="none" stroke="#ff0000" stroke-width="1.5" stroke-linejoin="bevel" points="342.54,221.44 343.54,227.66 344.54,221.78 345.54,230.06 346.54,222.19 347.54,230.46 348.54,220.58 349.54,230.63 350.54,221.95 351.54,229.39 352.54,222.03 353.54,221.98 354.54,229.59 355.54,223.18 356.54,229.87 357.54,220.44 358.54,230.20 359.54,220.78 360.54,229.15 361.54,229.93 362.54,220.87 363.54,230.13 364.54,221.97 365.54,228.31 366.54,220.79 367.54,228.60 368.53,220.63 369.53,227.75 370.53,220.98 371.53,229.38 372.53,229.65 373.53,220.75 374.53,229.79 375.53,220.82 376.53,230.20 377.53,221.73 378.53,228.19 379.53,220.97 380.53,230.93 381.53,222.07 382.53,230.66 383.53,221.81 384.53,230.76 385.53,229.37 386.53,220.65 387.53,229.73 388.53,222.11 389.53,227.82 390.53,220.34 391.53,229.02 392.53,227.04 393.53,219.85 394.53,227.83 395.53,221.54 396.53,227.24 397.53,220.78 398.53,229.56 399.53,221.10 400.53,220.66 401.53,230.32 402.53,229.37 403.53,220.75 404.53,229.59 405.53,221.79 406.53,229.91 407.53,220.41 408.53,228.31 409.53,223.01 410.53,230.20 411.53,221.42 412.53,229.91 413.53,228.84 414.53,220.26 415.53,227.75 416.53,222.43 417.53,230.23 418.52,221.48 419.52,229.97 420.52,230.17 421.52,222.42 422.52,228.61 423.52,221.27 424.52,229.17 425.52,228.00 426.52,220.53 427.52,229.46 428.52,220.25 429.52,229.49 430.52,220.09 431.52,220.32 432.52,228.72 433.52,220.16 434.52,228.71 435.52,221.86 436.52,228.82 437.52,220.63 438.52,220.44 439.52,230.03 440.52,221.77 441.52,222.81 442.52,230.00 443.52,221.64 444.52,221.34 445.52,228.37 446.52,221.77 447.52,230.37 448.52,230.49 449.52,220.84 450.52,230.47 451.52,221.62 452.52,230.57 453.52,229.23 454.52,228.76 455.52,230.63 456.52,222.97 457.52,228.63 458.52,220.62 459.52,229.79 460.52,230.70 461.52,221.35 462.52,230.71 463.52,221.69 464.52,230.74 465.52,220.74 466.52,223.56 467.52,228.81 468.51,222.10 469.51,228.93 470.51,220.89 471.51,230.79 472.51,230.52 473.51,222.38 474.51,228.83 475.51,221.90 476.51,229.74 477.51,220.84 478.51,228.33 479.51,228.80 480.51,219.79 481.51,229.15 482.51,222.52 483.51,227.28 484.51,220.15 485.51,230.27 486.51,220.39 487.51,229.79 488.51,223.06 489.51,229.95 490.51,221.08 491.51,228.52 492.51,221.04 493.51,230.07 494.51,223.35 495.51,228.81 496.51,221.15 497.51,230.82 498.51,221.48 499.51,229.17 500.51,222.27 501.51,221.66 502.51,230.35 503.51,220.91 504.51,229.63 505.51,222.55 506.51,230.28 507.51,220.83 508.51,230.64 509.51,220.62 510.51,220.63 511.51,221.14 512.51,228.82 513.51,230.08 514.51,220.52 515.51,230.37 516.51,223.08 517.50,229.17 518.50,220.48 519.50,228.06 520.50,222.81 521.50,229.32 522.50,229.67 523.50,220.74 524.50,229.99 525.50,228.23 526.50,222.02 527.50,228.10 528.50,220.62 529.50,230.55 530.50,229.69 531.50,221.43 532.50,229.81 533.50,221.05 534.50,227.77 535.50,229.19 536.50,229.86 537.50,220.77 538.50,229.82 539.50,221.23 540.50,221.08 541.50,228.59 542.50,222.92"/>
<polyline fill="none" stroke="#0000ff" stroke-width="1.5" stroke-linejoin="bevel" points="42.60,219.08 43.60,234.05 44.60,219.95 45.60,230.65 46.60,218.37 47.60,233.96 48.60,232.17 49.60,217.82 50.60,218.84 51.60,233.72 52.60,219.36 53.60,232.40 54.60,219.63 55.60,233.03 56.60,217.40 57.60,217.12 58.60,232.06 59.60,217.36 60.60,233.86 61.60,217.80 62.60,233.47 63.60,219.42 64.60,233.39 65.60,217.89 66.60,231.47 67.59,219.77 68.59,234.25 69.59,219.48 70.59,230.28 71.59,222.18 72.59,231.30 73.59,218.39 74.59,229.96 75.59,217.86 76.59,233.44 77.59,217.38 78.59,232.30 79.59,219.60 80.59,231.19 81.59,216.73 82.59,228.56 83.59,217.06 84.59,230.50 85.59,220.74 86.59,230.05 87.59,217.64 88.59,231.49 89.59,216.32 90.59,232.28 91.59,229.64 92.59,218.64 93.59,218.55 94.59,230.79 95.59,217.01 96.59,228.35 97.59,232.73 98.59,216.83 99.59,231.29 100.59,233.51 101.59,221.79 102.59,232.22 103.59,217.31 104.59,234.12 105.59,219.17 106.59,234.10 107.59,217.35 108.59,233.24 109.59,218.33 110.59,230.62 111.59,233.99 112.59,230.28 113.59,218.18 114.59,230.52 115.59,217.58 116.59,234.27 117.59,218.53 118.58,234.15 119.58,218.83 120.58,231.11 121.58,221.51 122.58,234.13 123.58,217.58 124.58,233.38 125.58,217.07 126.58,232.43 127.58,216.61 128.58,233.00 129.58,216.38 130.58,217.34 131.58,228.54 132.58,216.26 133.58,220.03 134.58,216.50 135.58,229.89 136.58,219.43 137.58,230.95 138.58,218.81 139.58,218.39 140.58,228.97 141.58,219.78 142.58,232.78 143.58,217.51 144.58,233.90 145.58,218.68 146.58,233.97 147.58,234.06 148.58,221.59 149.58,232.08 150.58,219.35 151.58,231.18 152.58,219.48 153.58,233.91 154.58,220.12 155.58,232.49 156.58,217.64 157.58,233.50 158.58,218.66 159.58,233.43 160.58,220.97 161.58,233.45 162.58,220.51 163.58,228.54 164.58,231.42 165.58,216.74 166.58,229.94 167.57,217.40 168.57,230.59 169.57,217.21 170.57,233.51 171.57,221.88 172.57,234.34 173.57,217.93 174.57,231.90 175.57,221.55 176.57,235.10 177.57,219.28 178.57,232.70 179.57,219.87 180.57,232.46 181.57,218.50 182.57,229.23 183.57,233.69 184.57,218.79 185.57,233.16 186.57,216.99 187.57,232.56 188.57,219.49 189.57,230.95 190.57,216.25 191.57,230.84 192.57,216.41 193.57,216.95 194.57,232.06 195.57,216.40 196.57,231.53 197.57,232.67 198.57,216.06 199.57,217.95 200.57,232.85 201.57,219.56 202.57,233.11 203.57,232.88 204.57,231.16 205.57,216.51 206.57,232.32 207.57,216.92 208.57,216.85 209.57,232.99 210.57,221.31 211.57,232.78 212.57,216.62 213.57,229.11 214.57,216.70 215.57,230.62 216.57,218.78 217.56,219.13 218.56,230.24 219.56,216.59 220.56,233.12 221.56,217.24 222.56,232.01 223.56,216.47 224.56,229.59 225.56,216.37 226.56,232.00 227.56,218.07 228.56,233.60 229.56,220.33 230.56,233.32 231.56,218.43 232.56,234.19 233.56,218.35 234.56,233.27 235.56,219.36 236.56,234.28 237.56,218.43 238.56,233.07 239.56,222.06 240.56,232.47 241.56,219.74 242.66,219.74 242.66,146.91 242.56,146.91 243.56,161.36 244.56,150.56 245.56,161.49 246.56,150.45 247.56,160.27 248.56,157.80 249.56,147.03 250.56,158.82 251.56,148.95 252.56,146.40 253.56,146.29 254.56,158.17 255.56,162.16 256.56,149.13 257.56,146.11 258.56,161.43 259.56,146.51 260.56,146.09 261.56,162.10 262.56,157.61 263.56,147.70 264.56,161.04 265.56,147.21 266.56,149.35 267.56,160.41 268.55,146.22 269.55,162.87 270.55,159.30 271.55,148.29 272.55,161.93 273.55,146.81 274.55,146.53 275.55,162.73 276.55,162.19 277.55,160.92 278.55,146.18 279.55,147.56 280.55,160.84 281.55,146.33 282.55,157.20 283.55,145.00 284.55,159.70 285.55,147.70 286.55,161.56 287.55,148.68 288.55,145.02 289.55,158.49 290.55,145.28 291.55,146.08 292.55,161.21 293.55,146.95 294.55,160.12 295.55,145.46 296.55,158.94 297.55,146.90 298.55,158.02 299.55,145.63 300.55,161.25 301.55,150.06 302.55,160.19 303.55,146.74 304.55,161.09 305.55,149.52 306.55,161.94 307.55,149.98 308.55,160.56 309.55,148.18 310.55,160.24 311.55,157.85 312.55,144.44 313.55,160.49 314.55,147.86 315.55,156.89 316.55,146.68 317.55,162.34 318.54,148.65 319.54,160.73 320.54,146.44 321.54,162.85 322.54,147.56 323.54,162.90 324.54,150.49 325.54,158.08 326.54,149.08 327.54,149.80 328.54,162.41 329.54,162.93 330.54,148.91 331.54,159.84 332.54,148.70 333.54,162.89 334.54,146.30 335.54,161.53 336.54,146.44 337.54,162.60 338.54,147.35 339.54,162.60 340.54,150.47 341.54,162.28 342.64,162.28 342.64,218.89 342.54,218.89 343.54,229.25 344.54,219.45 345.54,233.26 346.54,220.14 347.54,233.92 348.54,217.45 349.54,234.21 350.54,219.74 351.54,232.14 352.54,219.87 353.54,219.79 354.54,232.47 355.54,221.79 356.54,232.93 357.54,217.22 358.54,233.49 359.54,217.79 360.54,231.74 361.54,233.04 362.54,217.94 363.54,233.37 364.54,219.77 365.54,230.34 366.54,217.80 367.54,230.83 368.53,217.54 369.53,229.40 370.53,218.13 371.53,232.13 372.53,232.57 373.53,217.74 374.53,232.81 375.53,217.86 376.53,233.50 377.53,219.38 378.53,230.14 379.53,218.11 380.53,234.71 381.53,219.94 382.53,234.25 383.53,219.50 384.53,234.43 385.53,232.11 386.53,217.58 387.53,232.70 388.53,220.00 389.53,229.52 390.53,217.05 391.53,231.52 392.53,228.22 393.53,216.23 394.53,229.55 395.53,219.06 396.53,228.55 397.53,217.79 398.53,232.43 399.53,218.32 400.53,217.59 401.53,233.69 402.53,232.10 403.53,217.74 404.53,232.47 405.53,219.47 406.53,233.00 407.53,217.17 408.53,230.34 409.53,221.51 410.53,233.49 411.53,218.86 412.53,233.00 413.53,231.22 414.53,216.93 415.53,229.40 416.53,220.54 417.53,233.54 418.52,218.95 419.52,233.11 420.52,233.45 421.52,220.53 422.52,230.84 423.52,218.61 424.52,231.77 425.52,229.83 426.52,217.38 427.52,232.26 428.52,216.91 429.52,232.30 430.52,216.64 431.52,217.02 432.52,231.03 433.52,216.75 434.52,231.00 435.52,219.59 436.52,231.18 437.52,217.54 438.52,217.22 439.52,233.20 440.52,219.44 441.52,221.18 442.52,233.16 443.52,219.23 444.52,218.72 445.52,230.44 446.52,219.45 447.52,233.77 448.52,233.98 449.52,217.90 450.52,233.94 451.52,219.19 452.52,234.11 453.52,231.88 454.52,231.09 455.52,234.21 456.52,221.43 457.52,230.88 458.52,217.53 459.52,232.80 460.52,234.33 461.52,218.73 462.52,234.34 463.52,219.30 464.52,234.39 465.52,217.71 466.52,222.43 467.52,231.18 468.51,219.99 469.51,231.38 470.51,217.98 471.51,234.47 472.51,234.02 473.51,220.45 474.51,231.20 475.51,219.66 476.51,232.72 477.51,217.90 478.51,230.37 479.51,231.15 480.51,216.13 481.51,231.74 482.51,220.69 483.51,228.62 484.51,216.74 485.51,233.61 486.51,217.14 487.51,232.81 488.51,221.60 489.51,233.07 490.51,218.29 491.51,230.69 492.51,218.23 493.51,233.28 494.51,222.07 495.51,231.17 496.51,218.41 497.51,234.52 498.51,218.95 499.51,231.77 500.51,220.28 501.51,219.25 502.51,233.75 503.51,218.01 504.51,232.54 505.51,220.73 506.51,233.62 507.51,217.88 508.51,234.23 509.51,217.52 510.51,217.54 511.51,218.39 512.51,231.18 513.51,233.29 514.51,217.36 515.51,233.77 516.51,221.61 517.50,231.78 518.50,217.29 519.50,229.93 520.50,221.16 521.50,232.02 522.50,232.60 523.50,217.73 524.50,233.14 525.50,230.20 526.50,219.85 527.50,229.99 528.50,217.52 529.50,234.07 530.50,232.64 531.50,218.87 532.50,232.84 533.50,218.23 534.50,229.43 535.50,231.80 536.50,232.92 537.50,217.77 538.50,232.85 539.50,218.54 540.50,218.29 541.50,230.81 542.50,221.35"/>
<polyline fill="none" stroke="#ff0000" stroke-width="1.5" stroke-linejoin="bevel" points="242.56,187.17 243.56,195.84 244.56,189.36 245.56,195.92 246.56,189.29 247.56,195.18 248.56,193.70 249.56,187.24 250.56,194.32 251.56,188.40 252.56,186.86 253.56,186.80 254.56,193.92 255.56,196.32 256.56,188.50 257.56,186.69 258.56,195.88 259.56,186.93 260.56,186.68 261.56,196.28 262.56,193.59 263.56,187.64 264.56,195.65 265.56,187.35 266.56,188.63 267.56,195.27 268.55,186.76 269.55,196.75 270.55,194.60 271.55,188.00 272.55,196.18 273.55,187.11 274.55,186.94 275.55,196.66 276.55,196.34 277.55,195.57 278.55,186.73 279.55,187.56 280.55,195.53 281.55,186.82 282.55,193.34 283.55,186.02 284.55,194.85 285.55,187.64 286.55,195.96 287.55,188.23 288.55,186.04 289.55,194.12 290.55,186.19 291.55,186.67 292.55,195.75 293.55,187.20 294.55,195.09 295.55,186.30 296.55,194.39 297.55,187.17 298.55,193.84 299.55,186.40 300.55,195.77 301.55,189.06 302.55,195.14 303.55,187.07 304.55,195.67 305.55,188.73 306.55,196.19 307.55,189.01 308.55,195.36 309.55,187.93 310.55,195.17 311.55,193.73 312.55,185.69 313.55,195.32 314.55,187.74 315.55,193.16 316.55,187.03 317.55,196.43 318.54,188.21 319.54,195.46 320.54,186.89 321.54,196.73 322.54,187.56 323.54,196.77 324.54,189.32 325.54,193.87 326.54,188.47 327.54,188.90 328.54,196.47 329.54,196.78 330.54,188.37 331.54,194.93 332.54,188.24 333.54,196.76 334.54,186.81 335.54,195.94 336.54,186.89 337.54,196.58 338.54,187.44 339.54,196.58 340.54,189.30 341.54,196.39"/>
</g>
<g font-family="'Liberation Serif', serif" font-size="7.2" fill="#1e1e1e" letter-spacing="0" text-rendering="geometricPrecision">
<g text-anchor="middle"><text x="40.40" y="119.8">0</text><text x="90.45" y="119.8">10</text><text x="140.50" y="119.8">20</text><text x="190.55" y="119.8">30</text><text x="240.60" y="119.8">40</text><text x="290.65" y="119.8">50</text><text x="340.70" y="119.8">60</text><text x="390.75" y="119.8">70</text><text x="440.80" y="119.8">80</text><text x="490.85" y="119.8">90</text><text x="540.90" y="119.8">100</text><text x="43.50" y="242.1">0</text><text x="93.49" y="242.1">10</text><text x="143.48" y="242.1">20</text><text x="193.47" y="242.1">30</text><text x="243.46" y="242.1">40</text><text x="293.45" y="242.1">50</text><text x="343.44" y="242.1">60</text><text x="393.43" y="242.1">70</text><text x="443.42" y="242.1">80</text><text x="493.41" y="242.1">90</text><text x="543.40" y="242.1">100</text>
<text x="289.9" y="9.3" font-size="8.06" fill="#484848">Residual signal</text>
<text x="296.6" y="260.3">Time[sec]</text>
<text transform="translate(7.0,45) rotate(-90)">(a)</text>
<text transform="translate(13.4,168.4) rotate(-90)">(b)</text></g>
<g text-anchor="end"><text x="37.10" y="112.40">-0.02</text><text x="37.10" y="84.69">0</text><text x="37.10" y="56.97">0.02</text><text x="37.10" y="29.26">0.04</text><text x="40.20" y="227.17">0</text><text x="40.20" y="209.33">0.05</text><text x="40.20" y="191.50">0.1</text><text x="40.20" y="173.67">0.15</text><text x="40.20" y="155.83">0.2</text><text x="40.20" y="138.00">0.25</text></g>
</g>
</svg>
</body></html>
